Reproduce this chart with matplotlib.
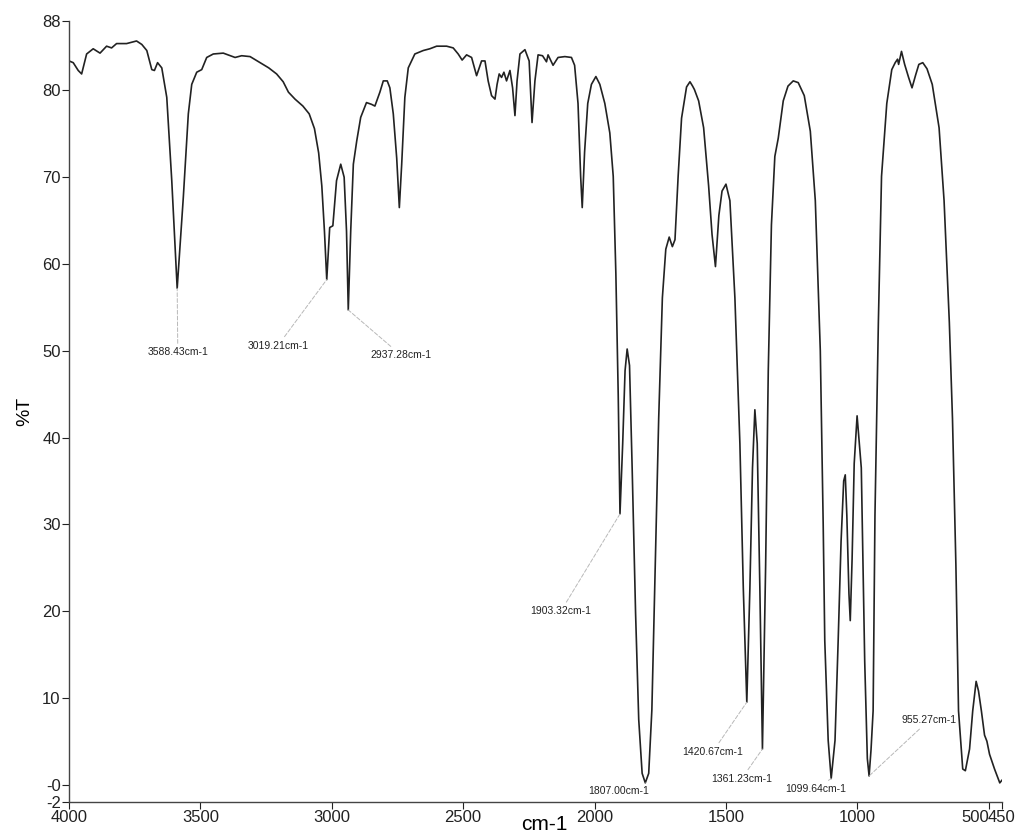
import matplotlib
matplotlib.use("Agg")
import matplotlib.pyplot as plt

plt.rcParams['font.family'] = ['Liberation Sans', 'DejaVu Sans']

# Spectrum, as (wavenumber cm-1, %T) pairs, per region
region_4000_3000 = [
    (4000, 83.4), (3984, 83.2), (3965, 82.3), (3952, 81.9), (3933, 84.2), (3908, 84.8),
    (3882, 84.3), (3857, 85.1), (3838, 84.9), (3819, 85.4), (3781, 85.4), (3743, 85.7),
    (3723, 85.3), (3704, 84.6), (3685, 82.4), (3675, 82.3), (3663, 83.2), (3647, 82.6),
    (3628, 79.2), (3609, 69.6), (3588.4, 57.2), (3565, 67.7), (3546, 77.3), (3533, 80.7),
    (3514, 82.1), (3495, 82.4), (3476, 83.8), (3451, 84.2), (3413, 84.3), (3368, 83.8),
    (3343, 84.0), (3311, 83.9), (3273, 83.2), (3240, 82.6), (3210, 81.9), (3185, 81.0),
    (3165, 79.8), (3140, 79.0), (3110, 78.2), (3086, 77.3), (3066, 75.6), (3050, 72.8),
    (3038, 69.0), (3028, 63.8), (3019.2, 58.2),
]
region_3000_2000 = [
    (3008, 64.2), (2996, 64.4), (2982, 69.6), (2966, 71.5), (2953, 70.0), (2944, 63.8),
    (2937.3, 54.7), (2928, 63.8), (2918, 71.5), (2905, 74.2), (2890, 76.9), (2868, 78.6),
    (2849, 78.4), (2836, 78.2), (2817, 79.8), (2804, 81.1), (2789, 81.1), (2779, 80.3),
    (2766, 77.3), (2753, 72.2), (2743, 66.5), (2734, 71.5), (2722, 79.2), (2709, 82.6),
    (2684, 84.2), (2652, 84.6), (2627, 84.8), (2601, 85.1), (2563, 85.1), (2538, 84.9),
    (2519, 84.2), (2504, 83.5), (2487, 84.1), (2468, 83.8), (2449, 81.7), (2430, 83.4),
    (2417, 83.4), (2405, 81.1), (2392, 79.4), (2379, 79.0), (2371, 80.7), (2363, 81.9),
    (2354, 81.5), (2345, 82.1), (2335, 81.1), (2322, 82.3), (2312, 80.3), (2303, 77.1),
    (2295, 81.1), (2284, 84.2), (2265, 84.7), (2249, 83.4), (2238, 76.3), (2227, 81.1),
    (2215, 84.1), (2198, 84.0), (2183, 83.3), (2177, 84.1), (2158, 82.9), (2139, 83.8),
    (2113, 83.9), (2088, 83.8), (2076, 82.9), (2063, 78.5), (2053, 70.1), (2047, 66.5),
    (2038, 72.9), (2026, 78.5), (2012, 80.7),
]
region_2000_1300 = [
    (1995, 81.6), (1980, 80.7), (1961, 78.5), (1942, 75.1), (1929, 70.1), (1919, 58.9),
    (1910, 44.9), (1903.3, 31.2), (1893, 39.3), (1884, 47.7), (1876, 50.2), (1867, 48.3),
    (1857, 36.5), (1844, 19.8), (1832, 7.5), (1819, 1.3), (1807, 0.2), (1794, 1.3),
    (1782, 8.6), (1769, 25.3), (1756, 42.2), (1742, 56.1), (1729, 61.7), (1716, 63.1),
    (1704, 62.0), (1694, 62.8), (1682, 70.1), (1669, 76.8), (1650, 80.4), (1637, 81.0),
    (1627, 80.5), (1620, 80.1), (1604, 78.8), (1585, 75.7), (1566, 69.0), (1553, 63.4),
    (1540, 59.7), (1527, 65.6), (1515, 68.4), (1500, 69.2), (1485, 67.3), (1466, 56.1),
    (1447, 39.3), (1434, 22.6), (1420.7, 9.5), (1409, 22.6), (1399, 36.5), (1390, 43.2),
    (1381, 39.3), (1371, 22.6), (1361.2, 4.1), (1349, 25.3), (1339, 47.7), (1327, 64.5),
    (1314, 72.4), (1301, 74.5),
]
region_1300_450 = [
    (1282, 78.8), (1264, 80.5), (1244, 81.1), (1225, 80.9), (1202, 79.4), (1179, 75.3),
    (1160, 67.3), (1141, 50.0), (1130, 30.0), (1124, 16.6), (1111, 5.1), (1099.6, 0.7),
    (1085, 5.1), (1073, 16.6), (1062, 28.0), (1052, 35.0), (1046, 35.7), (1040, 31.0),
    (1032, 22.0), (1027, 18.9), (1020, 26.0), (1012, 37.0), (1001, 42.5), (997, 41.0),
    (985, 36.5), (972, 14.2), (962, 3.0), (955.3, 1.0), (948, 4.0), (940, 8.5),
    (933, 31.0), (920, 53.3), (908, 70.1), (888, 78.5), (869, 82.4), (856, 83.2),
    (847, 83.6), (843, 83.0), (832, 84.5), (820, 83.0), (805, 81.5), (792, 80.3),
    (778, 81.8), (766, 83.0), (751, 83.2), (735, 82.5), (715, 80.7), (689, 75.7),
    (670, 67.3), (650, 53.3), (638, 42.2), (625, 25.3), (615, 8.5), (599, 1.8),
    (589, 1.6), (573, 4.1), (561, 8.5), (548, 11.9), (539, 10.8), (528, 8.5),
    (516, 5.7), (507, 5.0), (497, 3.5), (478, 1.8), (458, 0.2), (450, 0.5),
]
spectrum = region_4000_3000 + region_3000_2000 + region_2000_1300 + region_1300_450
wavenumber = [p[0] for p in spectrum]
transmittance = [p[1] for p in spectrum]

# Peak labels
peak_wn = [3588.43, 3019.21, 2937.28, 1903.32, 1807.00, 1420.67, 1361.23, 1099.64, 955.27]
peak_t = [57.2, 58.2, 54.7, 31.2, 0.2, 9.5, 4.1, 0.7, 1.0]
label_wn = [3586, 3205, 2737, 2128, 1908, 1550, 1440, 1158, 728]
label_t = [49.8, 50.6, 49.5, 20.0, -0.7, 3.8, 0.7, -0.5, 7.4]

x_ticks = [4000, 3500, 3000, 2500, 2000, 1500, 1000, 500, 450]
x_tick_labels = ['4000', '3500', '3000', '2500', '2000', '1500', '1000', '500', '450']
y_ticks = [88, 80, 70, 60, 50, 40, 30, 20, 10, 0, -2]
y_tick_labels = ['88', '80', '70', '60', '50', '40', '30', '20', '10', '-0', '-2']

fig = plt.figure(figsize=(10.24, 8.34), dpi=100)
ax = fig.add_axes([0.0674, 0.0384, 0.911, 0.9364])

ax.plot(wavenumber, transmittance, color='#222222', lw=1.2)

for pw, pt, lw_, lt in zip(peak_wn, peak_t, label_wn, label_t):
    ax.annotate(f"{pw:.2f}cm-1", xy=(pw, pt), xytext=(lw_, lt),
                ha='center', va='center', fontsize=7.5, color='#222222',
                arrowprops=dict(arrowstyle='-', color='#b8b8b8', lw=0.7,
                                linestyle=(0, (4, 2)), shrinkA=1, shrinkB=0))

ax.set_xlim(4000, 450)
ax.set_ylim(-2, 88)
ax.set_xticks(x_ticks)
ax.set_xticklabels(x_tick_labels)
ax.set_yticks(y_ticks)
ax.set_yticklabels(y_tick_labels)
ax.tick_params(axis='both', direction='out', length=5, width=0.8, labelsize=12, pad=1,
               colors='#222222')
xlabels = ax.get_xticklabels()
xlabels[-2].set_horizontalalignment('right')
xlabels[-1].set_horizontalalignment('center')
for s in ['top', 'right']:
    ax.spines[s].set_visible(False)
for s in ['left', 'bottom']:
    ax.spines[s].set_color('#444444')
    ax.spines[s].set_linewidth(1.0)

ax.set_ylabel('%T', fontsize=14, labelpad=6)
fig.text(0.532, 0.0, 'cm-1', fontsize=15, ha='center', va='bottom')

fig.savefig('out.png', dpi=100)
